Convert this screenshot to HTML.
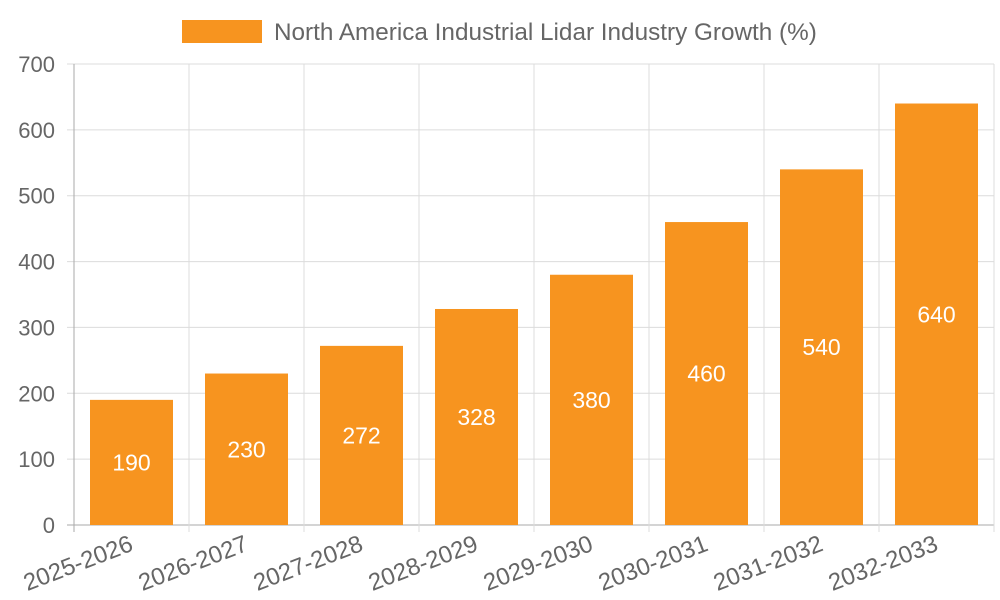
<!DOCTYPE html>
<html><head><meta charset="utf-8"><style>
html,body{margin:0;padding:0;background:#fff;}
svg{display:block;font-family:"Liberation Sans",sans-serif;}
</style></head><body>
<svg id="chart" width="1000" height="600">
<g id="grid"></g>
<g id="bars"></g>
<g id="axes"></g>
<g>
<rect x="182" y="20" width="80" height="23" fill="#f7941f"/>
<text x="274" y="40" font-size="24.3" fill="#666">North America Industrial Lidar Industry Growth (%)</text>
</g>
</svg>
<script>
const categories=["2025-2026","2026-2027","2027-2028","2028-2029","2029-2030","2030-2031","2031-2032","2032-2033"];
const values=[190,230,272,328,380,460,540,640];
const yTicks=[0,100,200,300,400,500,600,700];
const X0=74,X1=994,Y0=525,Y1=64,YMAX=700;
const bw=(X1-X0)/categories.length;
function y(v){return Y0-(v/YMAX)*(Y0-Y1);}
function x(i){return X0+i*bw;}
const NS="http://www.w3.org/2000/svg";
function mk(tag,attrs,parent,txt){const e=document.createElementNS(NS,tag);for(const k in attrs)e.setAttribute(k,attrs[k]);if(txt!==undefined)e.textContent=txt;parent.appendChild(e);return e;}
const grid=document.getElementById('grid'),bars=document.getElementById('bars'),axes=document.getElementById('axes');
yTicks.forEach(t=>{
 const l=mk('line',{x1:67,x2:X1,y1:y(t),y2:y(t),stroke:t===0?'#aaa':'#dcdcdc','stroke-width':1},grid);
 
 
 const tx=mk('text',{x:55,y:y(t)+8,'font-size':22,fill:'#666','text-anchor':'end'},axes,t);
 
 
});
for(let i=0;i<=categories.length;i++){
 const l=mk('line',{x1:x(i),x2:x(i),y1:Y1,y2:532,stroke:i===0?'#aaa':'#dcdcdc','stroke-width':1},grid);
 
 
}
categories.forEach((c,i)=>{
 const cx=x(i)+bw/2,w=83;
 const r=mk('rect',{x:cx-w/2,y:y(values[i]),width:w,height:Y0-y(values[i]),fill:'#f7941f'},bars);
 
 
 const v=mk('text',{x:cx,y:(y(values[i])+Y0)/2+8,'font-size':23,fill:'#fff','text-anchor':'middle'},bars,values[i]);
 
 
 const t=mk('text',{x:cx+3,y:550,'font-size':24,fill:'#666','text-anchor':'end',transform:`rotate(-21 ${cx+3} 550)`},axes,c);
 
 
});
</script>
</body></html>
